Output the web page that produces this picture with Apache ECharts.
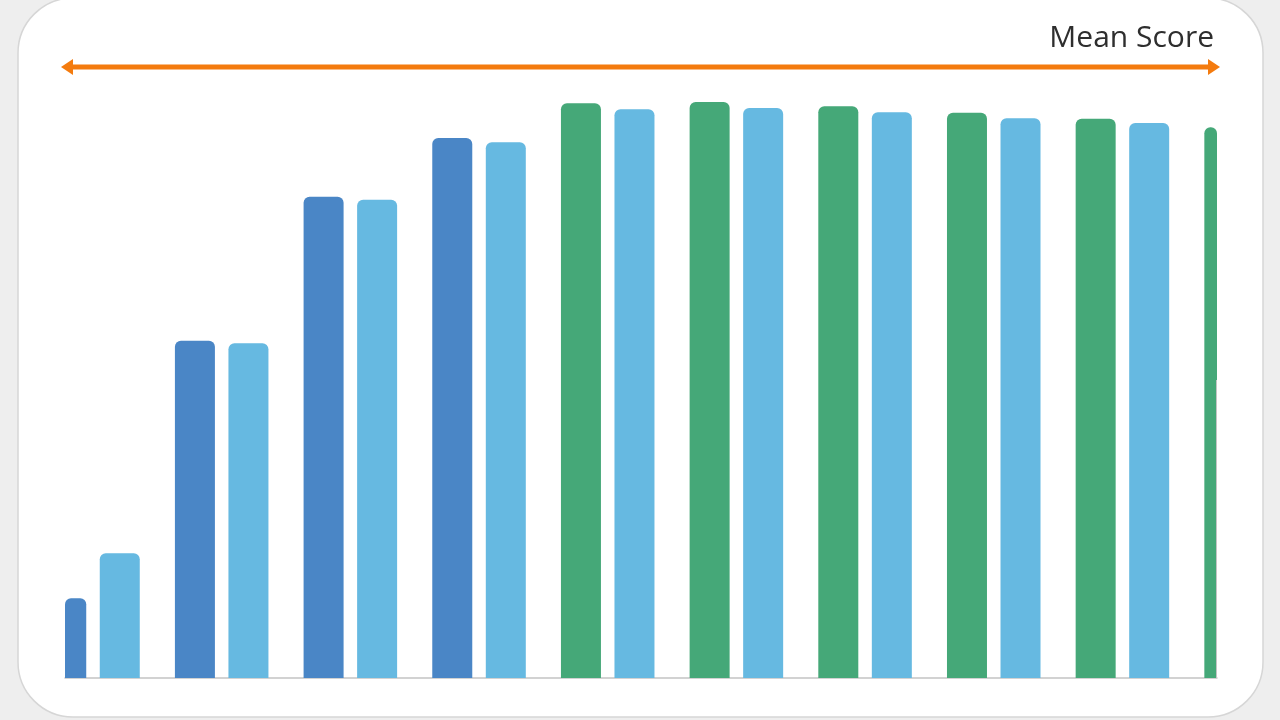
<!DOCTYPE html>
<html>
<head>
<meta charset="utf-8">
<script src="https://cdn.jsdelivr.net/npm/echarts@6/dist/echarts.min.js"></script>
<style>
html,body{margin:0;padding:0;background:#eeeeee;}
#chart{width:1280px;height:720px;}
</style>
</head>
<body>
<div id="chart"></div>
<script>
// Groups (ordered left to right); first four use the blue primary bar, the rest green
const groups = ['G1','G2','G3','G4','G5','G6','G7','G8','G9','G10'];
const primaryScores    = [13.3, 56.2, 80.2, 90.0, 95.8, 96.0, 95.3, 94.2, 93.2, 91.8];
const comparisonScores = [20.8, 55.8, 79.7, 89.3, 94.8, 95.0, 94.3, 93.3, 92.5, 91.0];
const primaryIsGreen = [false,false,false,false,true,true,true,true,true,true];
const axisTitle = 'Mean Score';

const COLORS = { blue: '#4a86c6', green: '#45a878', light: '#66b9e1' };
const chart = echarts.init(document.getElementById('chart'));
const off = 0.208;
const primaryData = groups.map((g, i) => [i - off, primaryScores[i], primaryIsGreen[i] ? 1 : 0]);
const compData = groups.map((g, i) => [i + off, comparisonScores[i], 2]);

function renderBar(params, api) {
  const x = api.value(0), y = api.value(1), kind = api.value(2);
  const top = api.coord([x, y]);
  const base = api.coord([x, 0]);
  const w = 40;
  const cs = params.coordSys;
  const rect = echarts.graphic.clipRectByRect(
    { x: top[0] - w / 2, y: top[1], width: w, height: base[1] - top[1] },
    { x: cs.x, y: cs.y, width: cs.width, height: cs.height }
  );
  if (!rect) return null;
  const fill = kind === 0 ? COLORS.blue : (kind === 1 ? COLORS.green : COLORS.light);
  return {
    type: 'rect',
    shape: { x: rect.x, y: rect.y, width: rect.width, height: rect.height, r: [6, 6, 0, 0] },
    style: { fill: fill }
  };
}

chart.setOption({
  backgroundColor: '#eeeeee',
  animation: false,
  graphic: [
    { type: 'rect', z: -10, shape: { x: 18, y: -2, width: 1245, height: 719, r: 55 },
      style: { fill: '#ffffff', stroke: '#d6d6d6', lineWidth: 1.5 } },
    { type: 'line', z: 10, shape: { x1: 70, y1: 67, x2: 1211, y2: 67 },
      style: { stroke: '#f47b0e', lineWidth: 5 } },
    { type: 'polygon', z: 10, shape: { points: [[61, 67], [73, 59], [73, 75]] },
      style: { fill: '#f47b0e' } },
    { type: 'polygon', z: 10, shape: { points: [[1220, 67], [1208, 59], [1208, 75]] },
      style: { fill: '#f47b0e' } },
    { type: 'text', z: 10, style: { text: axisTitle, x: 1214, y: 53, textAlign: 'right', textVerticalAlign: 'bottom',
      font: '30px "Open Sans", "Noto Sans", sans-serif', fill: '#2e2e2e' } },
    { type: 'line', z: 10, shape: { x1: 1216.5, y1: 380, x2: 1216.5, y2: 678 },
      style: { stroke: '#c4c4c4', lineWidth: 1 } }
  ],
  grid: { left: 65, right: 63, top: 78, bottom: 42 },
  xAxis: {
    type: 'value', min: -0.2176, max: 8.735,
    axisLine: { show: true, lineStyle: { color: '#c4c4c4', width: 1.5 } },
    axisTick: { show: false }, axisLabel: { show: false }, splitLine: { show: false }
  },
  yAxis: { type: 'value', min: 0, max: 100, show: false },
  series: [
    { type: 'custom', name: 'Primary', renderItem: renderBar, data: primaryData,
      encode: { x: 0, y: 1 }, clip: true },
    { type: 'custom', name: 'Comparison', renderItem: renderBar, data: compData,
      encode: { x: 0, y: 1 }, clip: true }
  ]
});
</script>
</body>
</html>
